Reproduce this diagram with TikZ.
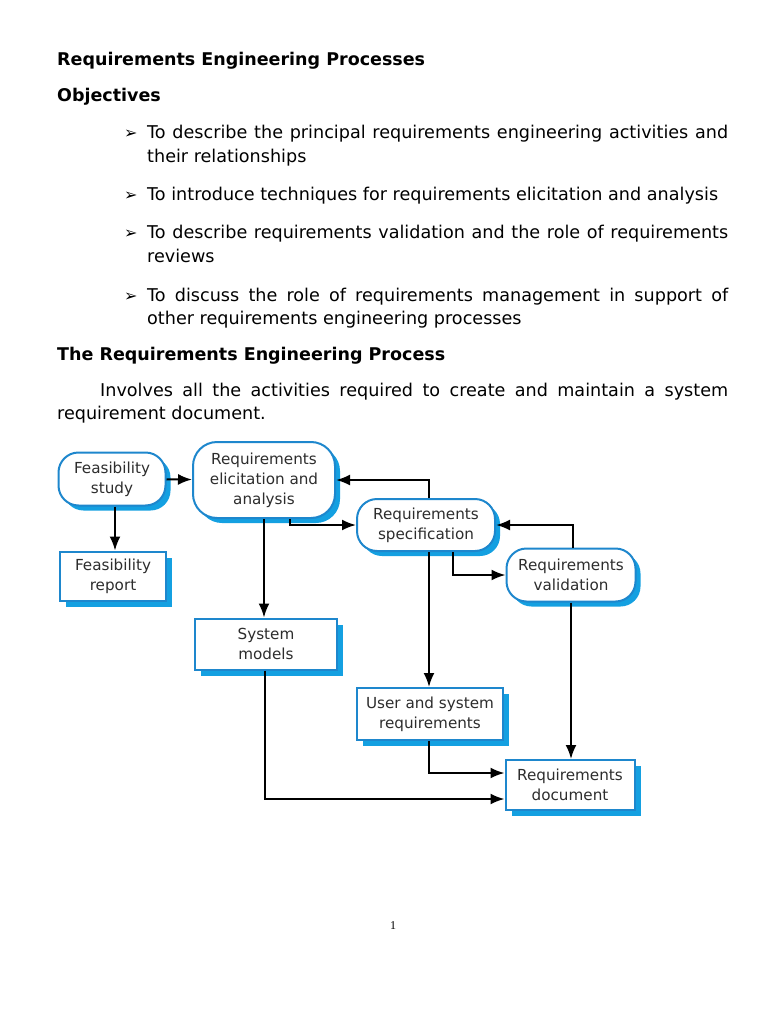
\documentclass[tikz,border=0pt]{standalone}
\usepackage{fontspec}
\setmainfont{DejaVu Sans}
\newfontfamily\pagenumfont{Liberation Serif}
\usetikzlibrary{shadows,arrows.meta}

\definecolor{boxline}{RGB}{30,135,205}
\definecolor{boxshade}{RGB}{20,160,225}
\definecolor{boxtext}{RGB}{45,45,45}

\tikzset{
  procbox/.style={draw=boxline, line width=2pt, fill=white, rounded corners=20pt,
    align=center, text=boxtext, font=\fontsize{15.2}{20}\selectfont, inner sep=0pt,
    copy shadow={shadow xshift=5pt, shadow yshift=-5pt, fill=boxshade, draw=none}},
  docbox/.style={draw=boxline, line width=2pt, fill=white, rectangle,
    align=center, text=boxtext, font=\fontsize{15.2}{20}\selectfont, inner sep=0pt,
    copy shadow={shadow xshift=6pt, shadow yshift=-6pt, fill=boxshade, draw=none}},
  flow/.style={-{Latex[length=14pt,width=11pt]}, line width=2pt},
  heading/.style={anchor=base west, inner sep=0pt, font=\bfseries\fontsize{17.5}{20}\selectfont},
  bodyline/.style={anchor=base west, inner sep=0pt, font=\fontsize{17.6}{20}\selectfont},
  bulletmark/.style={anchor=base west, inner sep=0pt, font=\fontsize{16}{20}\selectfont}
}

\begin{document}
\begin{tikzpicture}[x=1pt, y=-1pt]
  \useasboundingbox (0,0) rectangle (768,1024);

  % headings and objectives
  \node[heading] (title) at (57,66) {Requirements Engineering Processes};
  \node[heading] (objectives) at (57,102) {Objectives};

  \foreach \y in {139,201,239,301}
    \node[bulletmark] at (124,\y) {➢};

  \node[bodyline] (obj1a) at (147,139) {\makebox[581pt][s]{To describe the principal requirements engineering activities and}};
  \node[bodyline] (obj1b) at (147,163) {their relationships};
  \node[bodyline] (obj2) at (147,201) {To introduce techniques for requirements elicitation and analysis};
  \node[bodyline] (obj3a) at (147,239) {\makebox[581pt][s]{To describe requirements validation and the role of requirements}};
  \node[bodyline] (obj3b) at (147,262) {reviews};
  \node[bodyline] (obj4a) at (147,301) {\makebox[581pt][s]{To discuss the role of requirements management in support of}};
  \node[bodyline] (obj4b) at (147,324) {other requirements engineering processes};

  \node[heading] (process) at (57,360) {The Requirements Engineering Process};
  \node[bodyline] (intro1) at (100,396) {\makebox[628pt][s]{Involves all the activities required to create and maintain a system}};
  \node[bodyline] (intro2) at (57,419) {requirement document.};

  % process diagram
  \node[procbox, minimum width=107pt, minimum height=53pt] (study) at (112,479) {Feasibility\\study};
  \node[procbox, minimum width=142pt, minimum height=76pt, rounded corners=24pt] (elic) at (264,480) {Requirements\\elicitation and\\analysis};
  \node[procbox, minimum width=138pt, minimum height=52pt] (spec) at (426,525) {Requirements\\specification};
  \node[procbox, minimum width=129pt, minimum height=53pt] (valid) at (571,575) {Requirements\\validation};

  \node[docbox, minimum width=106pt, minimum height=49pt] (report) at (113,576) {Feasibility\\report};
  \node[docbox, minimum width=142pt, minimum height=51pt] (models) at (266,644) {System\\models};
  \node[docbox, minimum width=146pt, minimum height=52pt] (user) at (430,714) {User and system\\requirements};
  \node[docbox, minimum width=129pt, minimum height=50pt] (doc) at (570,785) {Requirements\\document};

  \draw[flow] (study) -- (elic);
  \draw[flow] ([xshift=3pt]study.south) -- ([xshift=3pt]study.south |- report.north);
  \draw[flow] (elic.south) -- (elic.south |- models.north);
  \draw[flow] ([xshift=26pt]elic.south) |- (spec.west);
  \draw[flow] ([xshift=3pt]spec.north) |- (elic.east);
  \draw[flow] ([xshift=27pt]spec.south) |- (valid.west);
  \draw[flow] ([xshift=2pt]valid.north) |- (spec.east);
  \draw[flow] ([xshift=3pt]spec.south) -- ([xshift=3pt]spec.south |- user.north);
  \draw[flow] (valid.south) -- (valid.south |- doc.north);
  \draw[flow] ([xshift=-1pt]user.south) |- ([yshift=12pt]doc.west);
  \draw[flow] ([xshift=-1pt]models.south) |- ([yshift=-14pt]doc.west);

  % page number
  \node[anchor=base, font=\pagenumfont\fontsize{12}{14}\selectfont] (pagenum) at (393,929) {1};
\end{tikzpicture}
\end{document}
